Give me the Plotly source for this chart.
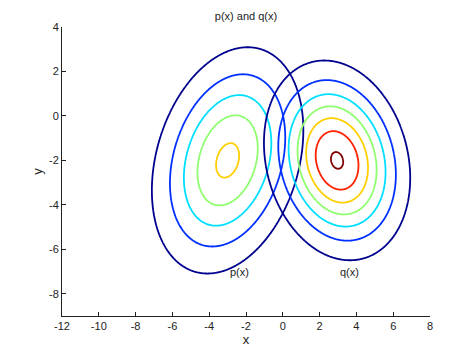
import numpy as np
import plotly.graph_objects as go

# Distribution parameters
mean_p = [-3.0, -2.0]
cov_p = [[5.14, 1.69], [1.69, 7.86]]
mean_q = [2.95, -2.0]
cov_q = [[4.03, -0.8], [-0.8, 5.15]]

# Contour levels and their jet colours
levels = [0.005, 0.010, 0.015, 0.020, 0.025, 0.030, 0.035]
level_colors = ["#00008F", "#0030FF", "#00DFFF", "#8FFF70", "#FFCF00", "#FF2000", "#800000"]

x_ticks = [-12, -10, -8, -6, -4, -2, 0, 2, 4, 6, 8]
y_ticks = [-8, -6, -4, -2, 0, 2, 4]
labels = ["p(x)", "q(x)"]
label_x = [-3, 3]
label_y = [-7, -7]

xs = np.linspace(-12, 8, 501)
ys = np.linspace(-9, 4, 326)
X, Y = np.meshgrid(xs, ys)


def gauss(mean, cov):
    m = np.array(mean)
    c = np.array(cov)
    inv = np.linalg.inv(c)
    dx = X - m[0]
    dy = Y - m[1]
    q = inv[0, 0] * dx * dx + 2 * inv[0, 1] * dx * dy + inv[1, 1] * dy * dy
    return np.exp(-0.5 * q) / (2 * np.pi * np.sqrt(np.linalg.det(c)))


n = len(levels)
colorscale = [[i / (n - 1), col] for i, col in enumerate(level_colors)]

fig = go.Figure()
for mean, cov in [(mean_p, cov_p), (mean_q, cov_q)]:
    fig.add_trace(go.Contour(
        x=xs, y=ys, z=gauss(mean, cov),
        autocontour=False,
        contours=dict(start=levels[0], end=levels[-1], size=levels[1] - levels[0],
                      coloring="lines", showlabels=False),
        colorscale=colorscale, zauto=False, zmin=levels[0], zmax=levels[-1],
        line=dict(width=1.8, smoothing=1),
        showscale=False, hoverinfo="skip",
    ))

for t, tx, ty in zip(labels, label_x, label_y):
    fig.add_annotation(x=tx, y=ty, text=t, showarrow=False, xanchor="left",
                       yanchor="middle", font=dict(size=11, color="#222"))

# page body adds an 8px offset, so the figure is 8px smaller than the window
W, H = 466, 347
font = dict(family="Liberation Sans, Arial, sans-serif", size=11, color="#222")
fig.update_layout(
    width=W, height=H,
    margin=dict(l=54, r=44, t=19, b=39),
    paper_bgcolor="white", plot_bgcolor="white",
    font=font,
    showlegend=False,
    title=dict(text="p(x) and q(x)", x=238 / W, xanchor="center", y=1 - 8 / H,
               yanchor="middle", yref="container", font=dict(size=11, color="#222")),
    xaxis=dict(range=[-12, 8], tickvals=x_ticks, ticktext=[str(v) for v in x_ticks],
               showgrid=False, zeroline=False, showline=True, linecolor="#222",
               linewidth=1, ticks="inside", ticklen=4, tickcolor="#222",
               mirror=False, title=dict(text="x", standoff=2)),
    yaxis=dict(range=[-9, 4], tickvals=y_ticks, ticktext=[str(v) for v in y_ticks],
               showgrid=False, zeroline=False, showline=True, linecolor="#222",
               linewidth=1, ticks="inside", ticklen=4, tickcolor="#222",
               mirror=False, title=dict(text="y", standoff=3)),
)

fig.write_html("out.html")
